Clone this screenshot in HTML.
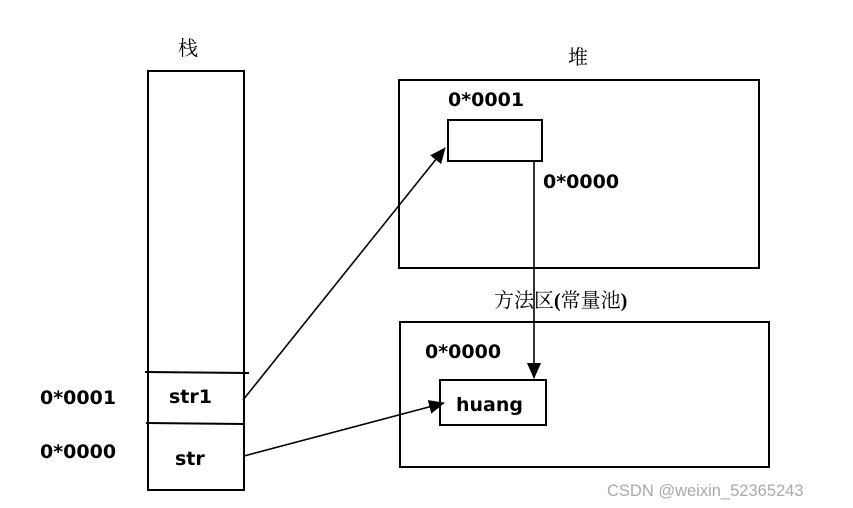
<!DOCTYPE html>
<html><head><meta charset="utf-8"><style>
html,body{margin:0;padding:0;background:#fff;}
svg{display:block;}
.b{font-family:"DejaVu Sans","Liberation Sans",sans-serif;font-weight:bold;font-size:19px;fill:#000;}
.c{font-family:"Liberation Serif","Noto Serif CJK SC",serif;font-size:20px;fill:#000;}
</style></head><body>
<svg width="853" height="508" viewBox="0 0 853 508" xmlns="http://www.w3.org/2000/svg">
<defs><marker id="a" markerWidth="10" markerHeight="10" refX="9" refY="5" orient="auto" markerUnits="userSpaceOnUse"><path d="M0,0 L10,5 L0,10 Z" fill="#000"/></marker>
<marker id="a2" markerWidth="16" markerHeight="14" refX="15" refY="7" orient="auto" markerUnits="userSpaceOnUse"><path d="M0,0 L16,7 L0,14 Z" fill="#000"/></marker></defs>
<g fill="none" stroke="#000" stroke-width="2">
<rect x="148" y="71" width="96" height="419"/>
<line x1="145" y1="372" x2="249" y2="373"/>
<line x1="146" y1="423" x2="244" y2="424"/>
<rect x="399" y="80" width="360" height="188"/>
<rect x="448" y="120" width="94" height="41"/>
<rect x="400" y="322" width="369" height="145"/>
<rect x="440" y="380" width="106" height="45"/>
</g>
<g stroke="#000" stroke-width="1.6" fill="none">
<line x1="243" y1="400" x2="445" y2="148" marker-end="url(#a2)"/>
<line x1="244" y1="456" x2="444" y2="403" marker-end="url(#a2)"/>
<line x1="534" y1="160" x2="534" y2="378" marker-end="url(#a2)"/>
</g>
<text class="c" x="178" y="55">栈</text>
<text class="c" x="568" y="64">堆</text>
<text class="c" x="494" y="307">方法区<tspan font-weight="bold">(</tspan>常量池<tspan font-weight="bold">)</tspan></text>
<text class="b" x="448" y="106">0*0001</text>
<text class="b" x="543" y="188">0*0000</text>
<text class="b" x="425" y="358">0*0000</text>
<text class="b" x="456" y="411">huang</text>
<text class="b" x="169" y="403">str1</text>
<text class="b" x="175" y="465">str</text>
<text class="b" x="40" y="404">0*0001</text>
<text class="b" x="40" y="458">0*0000</text>
<text x="607" y="496" font-family="Liberation Sans,sans-serif" font-size="16.5" fill="#aaa">CSDN @weixin_52365243</text>
</svg>
</body></html>
